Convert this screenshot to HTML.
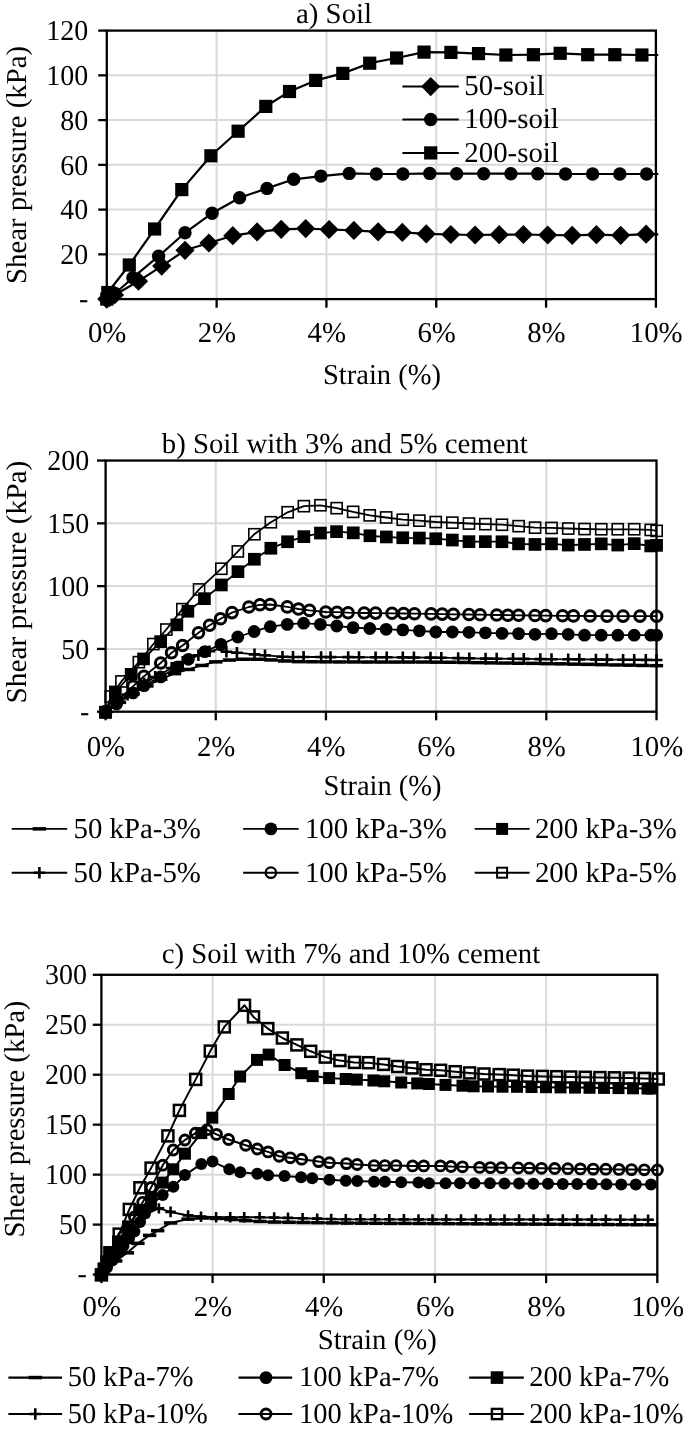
<!DOCTYPE html>
<html><head><meta charset="utf-8"><title>Shear pressure vs strain</title>
<style>html,body{margin:0;padding:0;background:#fff}svg{display:block}text{text-rendering:geometricPrecision;font-family:'Liberation Serif', 'Times New Roman', serif;fill:#000}</style>
</head><body>
<svg width="685" height="1431" viewBox="0 0 685 1431">
<rect width="685" height="1431" fill="#fff"/>
<g id="chart-a">
<line x1="106.8" x2="655.9" y1="254.35" y2="254.35" stroke="#d9d9d9" stroke-width="2"/>
<line x1="106.8" x2="655.9" y1="209.60" y2="209.60" stroke="#d9d9d9" stroke-width="2"/>
<line x1="106.8" x2="655.9" y1="164.85" y2="164.85" stroke="#d9d9d9" stroke-width="2"/>
<line x1="106.8" x2="655.9" y1="120.10" y2="120.10" stroke="#d9d9d9" stroke-width="2"/>
<line x1="106.8" x2="655.9" y1="75.35" y2="75.35" stroke="#d9d9d9" stroke-width="2"/>
<line x1="216.62" x2="216.62" y1="30.6" y2="299.1" stroke="#d9d9d9" stroke-width="2"/>
<line x1="326.44" x2="326.44" y1="30.6" y2="299.1" stroke="#d9d9d9" stroke-width="2"/>
<line x1="436.26" x2="436.26" y1="30.6" y2="299.1" stroke="#d9d9d9" stroke-width="2"/>
<line x1="546.08" x2="546.08" y1="30.6" y2="299.1" stroke="#d9d9d9" stroke-width="2"/>
<line x1="98.2" x2="106.8" y1="299.10" y2="299.10" stroke="#000" stroke-width="2.3"/>
<text transform="translate(88.2 307.9) scale(0.97 1)" text-anchor="end" font-size="28.85">-</text>
<line x1="98.2" x2="106.8" y1="254.35" y2="254.35" stroke="#000" stroke-width="2.3"/>
<text transform="translate(88.2 264.2) scale(0.97 1)" text-anchor="end" font-size="28.85">20</text>
<line x1="98.2" x2="106.8" y1="209.60" y2="209.60" stroke="#000" stroke-width="2.3"/>
<text transform="translate(88.2 219.4) scale(0.97 1)" text-anchor="end" font-size="28.85">40</text>
<line x1="98.2" x2="106.8" y1="164.85" y2="164.85" stroke="#000" stroke-width="2.3"/>
<text transform="translate(88.2 174.7) scale(0.97 1)" text-anchor="end" font-size="28.85">60</text>
<line x1="98.2" x2="106.8" y1="120.10" y2="120.10" stroke="#000" stroke-width="2.3"/>
<text transform="translate(88.2 129.9) scale(0.97 1)" text-anchor="end" font-size="28.85">80</text>
<line x1="98.2" x2="106.8" y1="75.35" y2="75.35" stroke="#000" stroke-width="2.3"/>
<text transform="translate(88.2 85.2) scale(0.97 1)" text-anchor="end" font-size="28.85">100</text>
<line x1="98.2" x2="106.8" y1="30.60" y2="30.60" stroke="#000" stroke-width="2.3"/>
<text transform="translate(88.2 40.4) scale(0.97 1)" text-anchor="end" font-size="28.85">120</text>
<line x1="106.80" x2="106.80" y1="299.1" y2="307.7" stroke="#000" stroke-width="2.3"/>
<text transform="translate(107.1 342.3)" text-anchor="middle" font-size="28.85">0%</text>
<line x1="216.62" x2="216.62" y1="299.1" y2="307.7" stroke="#000" stroke-width="2.3"/>
<text transform="translate(216.9 342.3)" text-anchor="middle" font-size="28.85">2%</text>
<line x1="326.44" x2="326.44" y1="299.1" y2="307.7" stroke="#000" stroke-width="2.3"/>
<text transform="translate(326.7 342.3)" text-anchor="middle" font-size="28.85">4%</text>
<line x1="436.26" x2="436.26" y1="299.1" y2="307.7" stroke="#000" stroke-width="2.3"/>
<text transform="translate(436.6 342.3)" text-anchor="middle" font-size="28.85">6%</text>
<line x1="546.08" x2="546.08" y1="299.1" y2="307.7" stroke="#000" stroke-width="2.3"/>
<text transform="translate(546.4 342.3)" text-anchor="middle" font-size="28.85">8%</text>
<line x1="655.90" x2="655.90" y1="299.1" y2="307.7" stroke="#000" stroke-width="2.3"/>
<text transform="translate(656.2 342.3)" text-anchor="middle" font-size="28.85">10%</text>
<rect x="106.8" y="30.6" width="549.10" height="268.50" fill="none" stroke="#000" stroke-width="2.3"/>
<text transform="translate(296.0 23.4)" font-size="28.85">a) Soil</text>
<text transform="translate(323.0 383.6)" textLength="118.0" lengthAdjust="spacingAndGlyphs" font-size="28.85">Strain (%)</text>
<text transform="translate(26.0 284.0) rotate(-90)" textLength="238.0" lengthAdjust="spacingAndGlyphs" font-size="28.85">Shear pressure (kPa)</text>
<polyline points="106.8,299.1 109.5,297.5 114.5,295.0 138.5,281.2 161.7,266.1 185.0,250.3 208.9,243.0 232.8,235.7 257.1,231.9 281.2,229.3 305.7,228.6 329.1,229.5 353.9,230.4 378.1,231.8 402.3,232.4 426.3,233.9 450.8,234.5 475.1,235.0 499.2,234.7 523.4,234.5 547.7,235.0 572.2,235.3 596.4,234.7 620.7,235.3 646.1,234.2 658.3,234.4" fill="none" stroke="#000" stroke-width="2.2" stroke-linejoin="round"/>
<path d="M97.2 299.1L106.8 289.5L116.4 299.1L106.8 308.7Z" fill="#000"/>
<path d="M99.9 297.5L109.5 287.9L119.1 297.5L109.5 307.1Z" fill="#000"/>
<path d="M104.9 295.0L114.5 285.4L124.1 295.0L114.5 304.6Z" fill="#000"/>
<path d="M128.9 281.2L138.5 271.6L148.1 281.2L138.5 290.8Z" fill="#000"/>
<path d="M152.1 266.1L161.7 256.5L171.3 266.1L161.7 275.7Z" fill="#000"/>
<path d="M175.4 250.3L185.0 240.7L194.6 250.3L185.0 259.9Z" fill="#000"/>
<path d="M199.3 243.0L208.9 233.4L218.5 243.0L208.9 252.6Z" fill="#000"/>
<path d="M223.2 235.7L232.8 226.1L242.4 235.7L232.8 245.3Z" fill="#000"/>
<path d="M247.5 231.9L257.1 222.3L266.7 231.9L257.1 241.5Z" fill="#000"/>
<path d="M271.6 229.3L281.2 219.7L290.8 229.3L281.2 238.9Z" fill="#000"/>
<path d="M296.1 228.6L305.7 219.0L315.3 228.6L305.7 238.2Z" fill="#000"/>
<path d="M319.5 229.5L329.1 219.9L338.7 229.5L329.1 239.1Z" fill="#000"/>
<path d="M344.3 230.4L353.9 220.8L363.5 230.4L353.9 240.0Z" fill="#000"/>
<path d="M368.5 231.8L378.1 222.2L387.7 231.8L378.1 241.4Z" fill="#000"/>
<path d="M392.7 232.4L402.3 222.8L411.9 232.4L402.3 242.0Z" fill="#000"/>
<path d="M416.7 233.9L426.3 224.3L435.9 233.9L426.3 243.5Z" fill="#000"/>
<path d="M441.2 234.5L450.8 224.9L460.4 234.5L450.8 244.1Z" fill="#000"/>
<path d="M465.5 235.0L475.1 225.4L484.7 235.0L475.1 244.6Z" fill="#000"/>
<path d="M489.6 234.7L499.2 225.1L508.8 234.7L499.2 244.3Z" fill="#000"/>
<path d="M513.8 234.5L523.4 224.9L533.0 234.5L523.4 244.1Z" fill="#000"/>
<path d="M538.1 235.0L547.7 225.4L557.3 235.0L547.7 244.6Z" fill="#000"/>
<path d="M562.6 235.3L572.2 225.7L581.8 235.3L572.2 244.9Z" fill="#000"/>
<path d="M586.8 234.7L596.4 225.1L606.0 234.7L596.4 244.3Z" fill="#000"/>
<path d="M611.1 235.3L620.7 225.7L630.3 235.3L620.7 244.9Z" fill="#000"/>
<path d="M636.5 234.2L646.1 224.6L655.7 234.2L646.1 243.8Z" fill="#000"/>
<polyline points="106.8,299.1 110.0,297.0 115.0,293.5 132.9,277.7 158.6,256.2 185.0,232.8 212.1,213.2 239.6,197.7 267.0,188.4 293.7,179.3 320.9,176.1 349.2,173.4 376.4,174.0 402.9,174.0 429.8,173.4 456.6,173.7 483.7,173.7 510.9,173.7 537.7,173.7 565.5,174.0 592.6,174.0 619.8,174.0 646.6,174.0 658.3,174.0" fill="none" stroke="#000" stroke-width="2.2" stroke-linejoin="round"/>
<circle cx="106.8" cy="299.1" r="6.70" fill="#000"/>
<circle cx="110.0" cy="297.0" r="6.70" fill="#000"/>
<circle cx="115.0" cy="293.5" r="6.70" fill="#000"/>
<circle cx="132.9" cy="277.7" r="6.70" fill="#000"/>
<circle cx="158.6" cy="256.2" r="6.70" fill="#000"/>
<circle cx="185.0" cy="232.8" r="6.70" fill="#000"/>
<circle cx="212.1" cy="213.2" r="6.70" fill="#000"/>
<circle cx="239.6" cy="197.7" r="6.70" fill="#000"/>
<circle cx="267.0" cy="188.4" r="6.70" fill="#000"/>
<circle cx="293.7" cy="179.3" r="6.70" fill="#000"/>
<circle cx="320.9" cy="176.1" r="6.70" fill="#000"/>
<circle cx="349.2" cy="173.4" r="6.70" fill="#000"/>
<circle cx="376.4" cy="174.0" r="6.70" fill="#000"/>
<circle cx="402.9" cy="174.0" r="6.70" fill="#000"/>
<circle cx="429.8" cy="173.4" r="6.70" fill="#000"/>
<circle cx="456.6" cy="173.7" r="6.70" fill="#000"/>
<circle cx="483.7" cy="173.7" r="6.70" fill="#000"/>
<circle cx="510.9" cy="173.7" r="6.70" fill="#000"/>
<circle cx="537.7" cy="173.7" r="6.70" fill="#000"/>
<circle cx="565.5" cy="174.0" r="6.70" fill="#000"/>
<circle cx="592.6" cy="174.0" r="6.70" fill="#000"/>
<circle cx="619.8" cy="174.0" r="6.70" fill="#000"/>
<circle cx="646.6" cy="174.0" r="6.70" fill="#000"/>
<polyline points="106.8,299.1 107.8,292.5 129.3,265.0 154.6,229.0 181.8,189.6 210.9,155.8 238.1,131.2 265.8,106.4 289.5,91.5 315.7,80.4 342.8,73.4 369.7,63.2 396.6,58.0 424.0,52.1 450.9,52.4 478.5,53.6 505.9,55.0 533.4,54.7 560.2,53.3 587.7,54.7 614.8,54.7 641.9,55.0 658.3,55.0" fill="none" stroke="#000" stroke-width="2.2" stroke-linejoin="round"/>
<rect x="100.2" y="292.5" width="13.2" height="13.2" fill="#000"/>
<rect x="101.2" y="285.9" width="13.2" height="13.2" fill="#000"/>
<rect x="122.7" y="258.4" width="13.2" height="13.2" fill="#000"/>
<rect x="148.0" y="222.4" width="13.2" height="13.2" fill="#000"/>
<rect x="175.2" y="183.0" width="13.2" height="13.2" fill="#000"/>
<rect x="204.3" y="149.2" width="13.2" height="13.2" fill="#000"/>
<rect x="231.5" y="124.6" width="13.2" height="13.2" fill="#000"/>
<rect x="259.2" y="99.8" width="13.2" height="13.2" fill="#000"/>
<rect x="282.9" y="84.9" width="13.2" height="13.2" fill="#000"/>
<rect x="309.1" y="73.8" width="13.2" height="13.2" fill="#000"/>
<rect x="336.2" y="66.8" width="13.2" height="13.2" fill="#000"/>
<rect x="363.1" y="56.6" width="13.2" height="13.2" fill="#000"/>
<rect x="390.0" y="51.4" width="13.2" height="13.2" fill="#000"/>
<rect x="417.4" y="45.5" width="13.2" height="13.2" fill="#000"/>
<rect x="444.3" y="45.8" width="13.2" height="13.2" fill="#000"/>
<rect x="471.9" y="47.0" width="13.2" height="13.2" fill="#000"/>
<rect x="499.3" y="48.4" width="13.2" height="13.2" fill="#000"/>
<rect x="526.8" y="48.1" width="13.2" height="13.2" fill="#000"/>
<rect x="553.6" y="46.7" width="13.2" height="13.2" fill="#000"/>
<rect x="581.1" y="48.1" width="13.2" height="13.2" fill="#000"/>
<rect x="608.2" y="48.1" width="13.2" height="13.2" fill="#000"/>
<rect x="635.3" y="48.4" width="13.2" height="13.2" fill="#000"/>
<line x1="402.4" x2="458.8" y1="86.6" y2="86.6" stroke="#000" stroke-width="2.0"/>
<path d="M421.1 86.6L430.7 77.0L440.3 86.6L430.7 96.2Z" fill="#000"/>
<text transform="translate(464.3 95.4)" font-size="28.85">50-soil</text>
<line x1="402.4" x2="458.8" y1="119.5" y2="119.5" stroke="#000" stroke-width="2.0"/>
<circle cx="430.7" cy="119.5" r="6.70" fill="#000"/>
<text transform="translate(464.3 128.3)" font-size="28.85">100-soil</text>
<line x1="402.4" x2="458.8" y1="152.9" y2="152.9" stroke="#000" stroke-width="2.0"/>
<rect x="424.1" y="146.3" width="13.2" height="13.2" fill="#000"/>
<text transform="translate(464.3 161.7)" font-size="28.85">200-soil</text>
</g>
<g id="chart-b">
<line x1="105.6" x2="656.5" y1="648.91" y2="648.91" stroke="#d9d9d9" stroke-width="2"/>
<line x1="105.6" x2="656.5" y1="586.12" y2="586.12" stroke="#d9d9d9" stroke-width="2"/>
<line x1="105.6" x2="656.5" y1="523.34" y2="523.34" stroke="#d9d9d9" stroke-width="2"/>
<line x1="215.78" x2="215.78" y1="460.55" y2="711.7" stroke="#d9d9d9" stroke-width="2"/>
<line x1="325.96" x2="325.96" y1="460.55" y2="711.7" stroke="#d9d9d9" stroke-width="2"/>
<line x1="436.14" x2="436.14" y1="460.55" y2="711.7" stroke="#d9d9d9" stroke-width="2"/>
<line x1="546.32" x2="546.32" y1="460.55" y2="711.7" stroke="#d9d9d9" stroke-width="2"/>
<line x1="97.0" x2="105.6" y1="711.70" y2="711.70" stroke="#000" stroke-width="2.3"/>
<text transform="translate(89.2 720.6) scale(0.97 1)" text-anchor="end" font-size="28.85">-</text>
<line x1="97.0" x2="105.6" y1="648.91" y2="648.91" stroke="#000" stroke-width="2.3"/>
<text transform="translate(89.2 658.8) scale(0.97 1)" text-anchor="end" font-size="28.85">50</text>
<line x1="97.0" x2="105.6" y1="586.12" y2="586.12" stroke="#000" stroke-width="2.3"/>
<text transform="translate(89.2 596.0) scale(0.97 1)" text-anchor="end" font-size="28.85">100</text>
<line x1="97.0" x2="105.6" y1="523.34" y2="523.34" stroke="#000" stroke-width="2.3"/>
<text transform="translate(89.2 533.2) scale(0.97 1)" text-anchor="end" font-size="28.85">150</text>
<line x1="97.0" x2="105.6" y1="460.55" y2="460.55" stroke="#000" stroke-width="2.3"/>
<text transform="translate(89.2 470.4) scale(0.97 1)" text-anchor="end" font-size="28.85">200</text>
<line x1="105.60" x2="105.60" y1="711.7" y2="720.3" stroke="#000" stroke-width="2.3"/>
<text transform="translate(105.9 755.6)" text-anchor="middle" font-size="28.85">0%</text>
<line x1="215.78" x2="215.78" y1="711.7" y2="720.3" stroke="#000" stroke-width="2.3"/>
<text transform="translate(216.1 755.6)" text-anchor="middle" font-size="28.85">2%</text>
<line x1="325.96" x2="325.96" y1="711.7" y2="720.3" stroke="#000" stroke-width="2.3"/>
<text transform="translate(326.3 755.6)" text-anchor="middle" font-size="28.85">4%</text>
<line x1="436.14" x2="436.14" y1="711.7" y2="720.3" stroke="#000" stroke-width="2.3"/>
<text transform="translate(436.4 755.6)" text-anchor="middle" font-size="28.85">6%</text>
<line x1="546.32" x2="546.32" y1="711.7" y2="720.3" stroke="#000" stroke-width="2.3"/>
<text transform="translate(546.6 755.6)" text-anchor="middle" font-size="28.85">8%</text>
<line x1="656.50" x2="656.50" y1="711.7" y2="720.3" stroke="#000" stroke-width="2.3"/>
<text transform="translate(656.8 755.6)" text-anchor="middle" font-size="28.85">10%</text>
<rect x="105.6" y="460.55" width="550.90" height="251.15" fill="none" stroke="#000" stroke-width="2.3"/>
<text transform="translate(161.8 453.4)" textLength="366.0" lengthAdjust="spacingAndGlyphs" font-size="28.85">b) Soil with 3% and 5% cement</text>
<text transform="translate(323.6 795.3)" textLength="118.0" lengthAdjust="spacingAndGlyphs" font-size="28.85">Strain (%)</text>
<text transform="translate(25.5 703.6) rotate(-90)" textLength="243.0" lengthAdjust="spacingAndGlyphs" font-size="28.85">Shear pressure (kPa)</text>
<g transform="translate(0 0.5)">
<polyline points="105.6,711.7 122.0,700.0 144.6,686.6 160.0,679.0 173.8,673.4 180.0,671.4 197.5,666.2 215.0,661.4 232.6,659.2 250.0,658.5 267.6,659.2 285.1,660.5 300.0,661.2 355.0,661.5 435.0,661.6 540.0,663.0 662.0,665.3" fill="none" stroke="#000" stroke-width="1.8" stroke-linejoin="round"/>
<rect x="98.9" y="710.0" width="13.4" height="3.5" fill="#000"/>
<rect x="112.7" y="700.1" width="13.4" height="3.5" fill="#000"/>
<rect x="126.4" y="691.6" width="13.4" height="3.5" fill="#000"/>
<rect x="140.2" y="683.7" width="13.4" height="3.5" fill="#000"/>
<rect x="154.0" y="677.0" width="13.4" height="3.5" fill="#000"/>
<rect x="167.8" y="671.4" width="13.4" height="3.5" fill="#000"/>
<rect x="181.5" y="667.2" width="13.4" height="3.5" fill="#000"/>
<rect x="195.3" y="663.2" width="13.4" height="3.5" fill="#000"/>
<rect x="209.1" y="659.6" width="13.4" height="3.5" fill="#000"/>
<rect x="222.8" y="657.8" width="13.4" height="3.5" fill="#000"/>
<rect x="236.6" y="657.0" width="13.4" height="3.5" fill="#000"/>
<rect x="250.4" y="657.0" width="13.4" height="3.5" fill="#000"/>
<rect x="264.1" y="657.7" width="13.4" height="3.5" fill="#000"/>
<rect x="277.9" y="658.7" width="13.4" height="3.5" fill="#000"/>
<rect x="291.7" y="659.4" width="13.4" height="3.5" fill="#000"/>
<rect x="305.4" y="659.5" width="13.4" height="3.5" fill="#000"/>
<rect x="319.2" y="659.6" width="13.4" height="3.5" fill="#000"/>
<rect x="333.0" y="659.7" width="13.4" height="3.5" fill="#000"/>
<rect x="346.8" y="659.7" width="13.4" height="3.5" fill="#000"/>
<rect x="360.5" y="659.8" width="13.4" height="3.5" fill="#000"/>
<rect x="374.3" y="659.8" width="13.4" height="3.5" fill="#000"/>
<rect x="388.1" y="659.8" width="13.4" height="3.5" fill="#000"/>
<rect x="401.8" y="659.8" width="13.4" height="3.5" fill="#000"/>
<rect x="415.6" y="659.8" width="13.4" height="3.5" fill="#000"/>
<rect x="429.4" y="659.9" width="13.4" height="3.5" fill="#000"/>
<rect x="443.1" y="660.0" width="13.4" height="3.5" fill="#000"/>
<rect x="456.9" y="660.2" width="13.4" height="3.5" fill="#000"/>
<rect x="470.7" y="660.4" width="13.4" height="3.5" fill="#000"/>
<rect x="484.5" y="660.6" width="13.4" height="3.5" fill="#000"/>
<rect x="498.2" y="660.8" width="13.4" height="3.5" fill="#000"/>
<rect x="512.0" y="661.0" width="13.4" height="3.5" fill="#000"/>
<rect x="525.8" y="661.1" width="13.4" height="3.5" fill="#000"/>
<rect x="539.5" y="661.4" width="13.4" height="3.5" fill="#000"/>
<rect x="553.3" y="661.6" width="13.4" height="3.5" fill="#000"/>
<rect x="567.1" y="661.9" width="13.4" height="3.5" fill="#000"/>
<rect x="580.8" y="662.1" width="13.4" height="3.5" fill="#000"/>
<rect x="594.6" y="662.4" width="13.4" height="3.5" fill="#000"/>
<rect x="608.4" y="662.7" width="13.4" height="3.5" fill="#000"/>
<rect x="622.2" y="662.9" width="13.4" height="3.5" fill="#000"/>
<rect x="635.9" y="663.2" width="13.4" height="3.5" fill="#000"/>
<rect x="649.7" y="663.4" width="13.4" height="3.5" fill="#000"/>
<polyline points="105.6,711.7 116.6,702.0 127.6,694.0 144.2,683.0 155.2,676.5 171.7,667.5 182.7,661.5 198.4,654.8 209.5,650.8 217.0,648.8 226.4,651.3 236.9,652.2 254.5,653.9 265.0,654.8 282.5,656.2 293.0,656.5 303.6,656.5 321.1,656.5 330.5,656.6 348.2,656.6 359.0,656.7 375.6,656.8 386.7,656.8 402.8,656.9 413.9,657.0 430.5,657.1 441.3,657.2 458.2,657.6 469.3,657.8 485.6,658.1 496.7,658.2 513.0,658.3 523.8,658.4 540.3,658.6 551.5,658.7 568.2,658.8 579.3,658.9 595.9,659.0 607.0,659.1 623.1,659.2 634.2,659.3 645.8,659.4 656.6,659.5 662.0,659.5" fill="none" stroke="#000" stroke-width="1.8" stroke-linejoin="round"/>
<path d="M105.6 705.9V717.6M99.8 711.7H111.4" stroke="#000" stroke-width="2.6" fill="none"/>
<path d="M116.6 696.1V707.9M110.8 702.0H122.4" stroke="#000" stroke-width="2.6" fill="none"/>
<path d="M127.6 688.1V699.9M121.8 694.0H133.4" stroke="#000" stroke-width="2.6" fill="none"/>
<path d="M144.2 677.1V688.9M138.3 683.0H150.0" stroke="#000" stroke-width="2.6" fill="none"/>
<path d="M155.2 670.6V682.4M149.3 676.5H161.0" stroke="#000" stroke-width="2.6" fill="none"/>
<path d="M171.7 661.6V673.4M165.8 667.5H177.5" stroke="#000" stroke-width="2.6" fill="none"/>
<path d="M182.7 655.6V667.4M176.8 661.5H188.5" stroke="#000" stroke-width="2.6" fill="none"/>
<path d="M198.4 648.9V660.6M192.6 654.8H204.2" stroke="#000" stroke-width="2.6" fill="none"/>
<path d="M209.5 644.9V656.6M203.7 650.8H215.3" stroke="#000" stroke-width="2.6" fill="none"/>
<path d="M226.4 645.4V657.1M220.6 651.3H232.2" stroke="#000" stroke-width="2.6" fill="none"/>
<path d="M236.9 646.4V658.1M231.1 652.2H242.8" stroke="#000" stroke-width="2.6" fill="none"/>
<path d="M254.5 648.0V659.8M248.7 653.9H260.4" stroke="#000" stroke-width="2.6" fill="none"/>
<path d="M265.0 648.9V660.6M259.1 654.8H270.9" stroke="#000" stroke-width="2.6" fill="none"/>
<path d="M282.5 650.4V662.1M276.6 656.2H288.4" stroke="#000" stroke-width="2.6" fill="none"/>
<path d="M293.0 650.6V662.4M287.1 656.5H298.9" stroke="#000" stroke-width="2.6" fill="none"/>
<path d="M303.6 650.6V662.4M297.8 656.5H309.5" stroke="#000" stroke-width="2.6" fill="none"/>
<path d="M321.1 650.7V662.4M315.2 656.5H327.0" stroke="#000" stroke-width="2.6" fill="none"/>
<path d="M330.5 650.7V662.4M324.6 656.6H336.4" stroke="#000" stroke-width="2.6" fill="none"/>
<path d="M348.2 650.8V662.5M342.3 656.6H354.1" stroke="#000" stroke-width="2.6" fill="none"/>
<path d="M359.0 650.8V662.5M353.1 656.7H364.9" stroke="#000" stroke-width="2.6" fill="none"/>
<path d="M375.6 650.9V662.6M369.8 656.8H381.5" stroke="#000" stroke-width="2.6" fill="none"/>
<path d="M386.7 651.0V662.7M380.8 656.8H392.6" stroke="#000" stroke-width="2.6" fill="none"/>
<path d="M402.8 651.1V662.8M396.9 656.9H408.7" stroke="#000" stroke-width="2.6" fill="none"/>
<path d="M413.9 651.1V662.8M408.0 657.0H419.8" stroke="#000" stroke-width="2.6" fill="none"/>
<path d="M430.5 651.2V662.9M424.6 657.1H436.4" stroke="#000" stroke-width="2.6" fill="none"/>
<path d="M441.3 651.4V663.1M435.4 657.2H447.2" stroke="#000" stroke-width="2.6" fill="none"/>
<path d="M458.2 651.7V663.4M452.3 657.6H464.1" stroke="#000" stroke-width="2.6" fill="none"/>
<path d="M469.3 651.9V663.6M463.4 657.8H475.2" stroke="#000" stroke-width="2.6" fill="none"/>
<path d="M485.6 652.2V663.9M479.8 658.1H491.5" stroke="#000" stroke-width="2.6" fill="none"/>
<path d="M496.7 652.3V664.0M490.8 658.2H502.6" stroke="#000" stroke-width="2.6" fill="none"/>
<path d="M513.0 652.5V664.2M507.1 658.3H518.9" stroke="#000" stroke-width="2.6" fill="none"/>
<path d="M523.8 652.6V664.3M517.9 658.4H529.6" stroke="#000" stroke-width="2.6" fill="none"/>
<path d="M540.3 652.8V664.5M534.4 658.6H546.1" stroke="#000" stroke-width="2.6" fill="none"/>
<path d="M551.5 652.8V664.5M545.6 658.7H557.4" stroke="#000" stroke-width="2.6" fill="none"/>
<path d="M568.2 653.0V664.7M562.4 658.8H574.1" stroke="#000" stroke-width="2.6" fill="none"/>
<path d="M579.3 653.1V664.8M573.4 658.9H585.1" stroke="#000" stroke-width="2.6" fill="none"/>
<path d="M595.9 653.2V664.9M590.0 659.0H601.8" stroke="#000" stroke-width="2.6" fill="none"/>
<path d="M607.0 653.3V665.0M601.1 659.1H612.9" stroke="#000" stroke-width="2.6" fill="none"/>
<path d="M623.1 653.4V665.1M617.2 659.2H629.0" stroke="#000" stroke-width="2.6" fill="none"/>
<path d="M634.2 653.5V665.2M628.4 659.3H640.1" stroke="#000" stroke-width="2.6" fill="none"/>
<path d="M645.8 653.6V665.3M639.9 659.4H651.6" stroke="#000" stroke-width="2.6" fill="none"/>
<path d="M656.6 653.6V665.4M650.8 659.5H662.5" stroke="#000" stroke-width="2.6" fill="none"/>
<polyline points="105.6,711.7 116.6,703.5 133.0,692.4 144.0,685.1 160.7,676.4 176.8,666.7 188.4,658.8 204.8,651.1 220.9,643.9 237.8,636.5 254.1,631.0 270.3,626.2 287.3,623.9 303.6,622.7 320.4,623.9 336.8,625.5 353.1,627.1 369.8,628.0 386.1,628.8 402.8,629.4 419.4,630.3 435.8,631.5 452.4,631.5 469.0,631.8 485.4,632.3 502.0,632.9 518.6,633.1 535.0,633.8 551.5,633.2 568.2,633.8 584.5,634.7 601.2,634.7 617.8,634.7 634.2,634.7 650.8,634.7 656.6,634.7" fill="none" stroke="#000" stroke-width="1.8" stroke-linejoin="round"/>
<circle cx="105.6" cy="711.7" r="6.40" fill="#000"/>
<circle cx="116.6" cy="703.5" r="6.40" fill="#000"/>
<circle cx="133.0" cy="692.4" r="6.40" fill="#000"/>
<circle cx="144.0" cy="685.1" r="6.40" fill="#000"/>
<circle cx="160.7" cy="676.4" r="6.40" fill="#000"/>
<circle cx="176.8" cy="666.7" r="6.40" fill="#000"/>
<circle cx="188.4" cy="658.8" r="6.40" fill="#000"/>
<circle cx="204.8" cy="651.1" r="6.40" fill="#000"/>
<circle cx="220.9" cy="643.9" r="6.40" fill="#000"/>
<circle cx="237.8" cy="636.5" r="6.40" fill="#000"/>
<circle cx="254.1" cy="631.0" r="6.40" fill="#000"/>
<circle cx="270.3" cy="626.2" r="6.40" fill="#000"/>
<circle cx="287.3" cy="623.9" r="6.40" fill="#000"/>
<circle cx="303.6" cy="622.7" r="6.40" fill="#000"/>
<circle cx="320.4" cy="623.9" r="6.40" fill="#000"/>
<circle cx="336.8" cy="625.5" r="6.40" fill="#000"/>
<circle cx="353.1" cy="627.1" r="6.40" fill="#000"/>
<circle cx="369.8" cy="628.0" r="6.40" fill="#000"/>
<circle cx="386.1" cy="628.8" r="6.40" fill="#000"/>
<circle cx="402.8" cy="629.4" r="6.40" fill="#000"/>
<circle cx="419.4" cy="630.3" r="6.40" fill="#000"/>
<circle cx="435.8" cy="631.5" r="6.40" fill="#000"/>
<circle cx="452.4" cy="631.5" r="6.40" fill="#000"/>
<circle cx="469.0" cy="631.8" r="6.40" fill="#000"/>
<circle cx="485.4" cy="632.3" r="6.40" fill="#000"/>
<circle cx="502.0" cy="632.9" r="6.40" fill="#000"/>
<circle cx="518.6" cy="633.1" r="6.40" fill="#000"/>
<circle cx="535.0" cy="633.8" r="6.40" fill="#000"/>
<circle cx="551.5" cy="633.2" r="6.40" fill="#000"/>
<circle cx="568.2" cy="633.8" r="6.40" fill="#000"/>
<circle cx="584.5" cy="634.7" r="6.40" fill="#000"/>
<circle cx="601.2" cy="634.7" r="6.40" fill="#000"/>
<circle cx="617.8" cy="634.7" r="6.40" fill="#000"/>
<circle cx="634.2" cy="634.7" r="6.40" fill="#000"/>
<circle cx="650.8" cy="634.7" r="6.40" fill="#000"/>
<circle cx="656.6" cy="634.7" r="6.40" fill="#000"/>
<polyline points="105.6,711.0 116.6,700.9 133.0,685.9 144.0,675.7 160.7,662.5 171.5,652.3 182.6,645.0 198.5,632.3 209.6,624.8 220.6,618.3 232.0,612.1 248.8,606.5 259.9,604.3 270.3,604.0 287.3,606.4 298.5,608.5 309.5,609.9 325.8,611.5 337.0,611.7 348.1,612.2 364.2,612.5 375.6,612.6 392.0,612.8 403.6,613.0 414.5,613.2 431.1,613.4 442.2,613.6 453.3,613.8 469.0,614.0 480.1,614.2 496.7,614.5 507.8,614.7 518.6,614.8 535.0,615.0 545.7,615.1 562.6,615.3 573.4,615.4 590.1,615.5 607.0,615.6 623.1,615.6 640.0,615.6 656.6,615.7" fill="none" stroke="#000" stroke-width="1.8" stroke-linejoin="round"/>
<circle cx="105.6" cy="711.0" r="5.30" fill="none" stroke="#000" stroke-width="3.0"/>
<circle cx="116.6" cy="700.9" r="5.30" fill="none" stroke="#000" stroke-width="3.0"/>
<circle cx="133.0" cy="685.9" r="5.30" fill="none" stroke="#000" stroke-width="3.0"/>
<circle cx="144.0" cy="675.7" r="5.30" fill="none" stroke="#000" stroke-width="3.0"/>
<circle cx="160.7" cy="662.5" r="5.30" fill="none" stroke="#000" stroke-width="3.0"/>
<circle cx="171.5" cy="652.3" r="5.30" fill="none" stroke="#000" stroke-width="3.0"/>
<circle cx="182.6" cy="645.0" r="5.30" fill="none" stroke="#000" stroke-width="3.0"/>
<circle cx="198.5" cy="632.3" r="5.30" fill="none" stroke="#000" stroke-width="3.0"/>
<circle cx="209.6" cy="624.8" r="5.30" fill="none" stroke="#000" stroke-width="3.0"/>
<circle cx="220.6" cy="618.3" r="5.30" fill="none" stroke="#000" stroke-width="3.0"/>
<circle cx="232.0" cy="612.1" r="5.30" fill="none" stroke="#000" stroke-width="3.0"/>
<circle cx="248.8" cy="606.5" r="5.30" fill="none" stroke="#000" stroke-width="3.0"/>
<circle cx="259.9" cy="604.3" r="5.30" fill="none" stroke="#000" stroke-width="3.0"/>
<circle cx="270.3" cy="604.0" r="5.30" fill="none" stroke="#000" stroke-width="3.0"/>
<circle cx="287.3" cy="606.4" r="5.30" fill="none" stroke="#000" stroke-width="3.0"/>
<circle cx="298.5" cy="608.5" r="5.30" fill="none" stroke="#000" stroke-width="3.0"/>
<circle cx="309.5" cy="609.9" r="5.30" fill="none" stroke="#000" stroke-width="3.0"/>
<circle cx="325.8" cy="611.5" r="5.30" fill="none" stroke="#000" stroke-width="3.0"/>
<circle cx="337.0" cy="611.7" r="5.30" fill="none" stroke="#000" stroke-width="3.0"/>
<circle cx="348.1" cy="612.2" r="5.30" fill="none" stroke="#000" stroke-width="3.0"/>
<circle cx="364.2" cy="612.5" r="5.30" fill="none" stroke="#000" stroke-width="3.0"/>
<circle cx="375.6" cy="612.6" r="5.30" fill="none" stroke="#000" stroke-width="3.0"/>
<circle cx="392.0" cy="612.8" r="5.30" fill="none" stroke="#000" stroke-width="3.0"/>
<circle cx="403.6" cy="613.0" r="5.30" fill="none" stroke="#000" stroke-width="3.0"/>
<circle cx="414.5" cy="613.2" r="5.30" fill="none" stroke="#000" stroke-width="3.0"/>
<circle cx="431.1" cy="613.4" r="5.30" fill="none" stroke="#000" stroke-width="3.0"/>
<circle cx="442.2" cy="613.6" r="5.30" fill="none" stroke="#000" stroke-width="3.0"/>
<circle cx="453.3" cy="613.8" r="5.30" fill="none" stroke="#000" stroke-width="3.0"/>
<circle cx="469.0" cy="614.0" r="5.30" fill="none" stroke="#000" stroke-width="3.0"/>
<circle cx="480.1" cy="614.2" r="5.30" fill="none" stroke="#000" stroke-width="3.0"/>
<circle cx="496.7" cy="614.5" r="5.30" fill="none" stroke="#000" stroke-width="3.0"/>
<circle cx="507.8" cy="614.7" r="5.30" fill="none" stroke="#000" stroke-width="3.0"/>
<circle cx="518.6" cy="614.8" r="5.30" fill="none" stroke="#000" stroke-width="3.0"/>
<circle cx="535.0" cy="615.0" r="5.30" fill="none" stroke="#000" stroke-width="3.0"/>
<circle cx="545.7" cy="615.1" r="5.30" fill="none" stroke="#000" stroke-width="3.0"/>
<circle cx="562.6" cy="615.3" r="5.30" fill="none" stroke="#000" stroke-width="3.0"/>
<circle cx="573.4" cy="615.4" r="5.30" fill="none" stroke="#000" stroke-width="3.0"/>
<circle cx="590.1" cy="615.5" r="5.30" fill="none" stroke="#000" stroke-width="3.0"/>
<circle cx="607.0" cy="615.6" r="5.30" fill="none" stroke="#000" stroke-width="3.0"/>
<circle cx="623.1" cy="615.6" r="5.30" fill="none" stroke="#000" stroke-width="3.0"/>
<circle cx="640.0" cy="615.6" r="5.30" fill="none" stroke="#000" stroke-width="3.0"/>
<circle cx="656.6" cy="615.7" r="5.30" fill="none" stroke="#000" stroke-width="3.0"/>
<polyline points="105.6,711.7 115.3,691.5 131.2,673.9 143.5,658.5 160.7,641.1 176.8,624.4 187.8,610.7 204.4,598.1 221.3,584.5 237.9,571.1 254.3,558.8 270.9,547.7 287.6,541.3 303.9,536.1 320.5,532.6 336.6,531.1 353.3,532.4 370.0,535.3 386.4,536.5 402.8,537.3 419.4,537.6 435.8,538.2 452.4,539.6 469.0,541.1 485.4,541.1 502.0,541.2 518.6,543.4 535.0,544.0 551.5,543.4 568.2,544.6 584.5,544.0 601.2,543.4 617.8,544.6 634.2,543.1 650.8,545.5 656.6,544.9" fill="none" stroke="#000" stroke-width="1.8" stroke-linejoin="round"/>
<rect x="99.2" y="705.4" width="12.7" height="12.7" fill="#000"/>
<rect x="109.0" y="685.1" width="12.7" height="12.7" fill="#000"/>
<rect x="124.8" y="667.5" width="12.7" height="12.7" fill="#000"/>
<rect x="137.2" y="652.1" width="12.7" height="12.7" fill="#000"/>
<rect x="154.3" y="634.8" width="12.7" height="12.7" fill="#000"/>
<rect x="170.5" y="618.0" width="12.7" height="12.7" fill="#000"/>
<rect x="181.5" y="604.4" width="12.7" height="12.7" fill="#000"/>
<rect x="198.1" y="591.8" width="12.7" height="12.7" fill="#000"/>
<rect x="215.0" y="578.1" width="12.7" height="12.7" fill="#000"/>
<rect x="231.6" y="564.8" width="12.7" height="12.7" fill="#000"/>
<rect x="248.0" y="552.4" width="12.7" height="12.7" fill="#000"/>
<rect x="264.5" y="541.4" width="12.7" height="12.7" fill="#000"/>
<rect x="281.2" y="534.9" width="12.7" height="12.7" fill="#000"/>
<rect x="297.5" y="529.8" width="12.7" height="12.7" fill="#000"/>
<rect x="314.1" y="526.2" width="12.7" height="12.7" fill="#000"/>
<rect x="330.2" y="524.8" width="12.7" height="12.7" fill="#000"/>
<rect x="346.9" y="526.0" width="12.7" height="12.7" fill="#000"/>
<rect x="363.6" y="528.9" width="12.7" height="12.7" fill="#000"/>
<rect x="380.0" y="530.1" width="12.7" height="12.7" fill="#000"/>
<rect x="396.4" y="530.9" width="12.7" height="12.7" fill="#000"/>
<rect x="413.0" y="531.2" width="12.7" height="12.7" fill="#000"/>
<rect x="429.4" y="531.9" width="12.7" height="12.7" fill="#000"/>
<rect x="446.0" y="533.2" width="12.7" height="12.7" fill="#000"/>
<rect x="462.6" y="534.8" width="12.7" height="12.7" fill="#000"/>
<rect x="479.0" y="534.8" width="12.7" height="12.7" fill="#000"/>
<rect x="495.6" y="534.9" width="12.7" height="12.7" fill="#000"/>
<rect x="512.2" y="537.0" width="12.7" height="12.7" fill="#000"/>
<rect x="528.6" y="537.6" width="12.7" height="12.7" fill="#000"/>
<rect x="545.1" y="537.0" width="12.7" height="12.7" fill="#000"/>
<rect x="561.9" y="538.2" width="12.7" height="12.7" fill="#000"/>
<rect x="578.1" y="537.6" width="12.7" height="12.7" fill="#000"/>
<rect x="594.9" y="537.0" width="12.7" height="12.7" fill="#000"/>
<rect x="611.4" y="538.2" width="12.7" height="12.7" fill="#000"/>
<rect x="627.9" y="536.8" width="12.7" height="12.7" fill="#000"/>
<rect x="644.4" y="539.1" width="12.7" height="12.7" fill="#000"/>
<rect x="650.2" y="538.5" width="12.7" height="12.7" fill="#000"/>
<polyline points="105.6,711.7 110.8,696.0 121.4,680.9 138.9,661.6 153.4,643.5 166.3,629.0 182.3,608.6 199.1,588.9 221.3,568.2 237.9,550.9 254.3,533.7 270.9,521.8 287.6,511.8 303.9,505.7 320.5,504.8 336.6,507.7 353.1,511.4 369.8,514.9 386.1,517.0 402.8,519.2 419.4,520.1 435.8,521.5 452.4,522.1 469.0,523.0 485.4,523.6 502.0,524.2 518.6,525.6 535.0,527.1 551.5,527.4 568.2,528.0 584.5,528.5 601.2,528.8 617.8,528.8 634.2,528.8 650.8,529.4 656.6,530.3" fill="none" stroke="#000" stroke-width="1.8" stroke-linejoin="round"/>
<rect x="100.0" y="706.2" width="11.1" height="11.1" fill="none" stroke="#000" stroke-width="1.6"/>
<rect x="105.2" y="690.5" width="11.1" height="11.1" fill="none" stroke="#000" stroke-width="1.6"/>
<rect x="115.9" y="675.4" width="11.1" height="11.1" fill="none" stroke="#000" stroke-width="1.6"/>
<rect x="133.3" y="656.1" width="11.1" height="11.1" fill="none" stroke="#000" stroke-width="1.6"/>
<rect x="147.8" y="638.0" width="11.1" height="11.1" fill="none" stroke="#000" stroke-width="1.6"/>
<rect x="160.8" y="623.5" width="11.1" height="11.1" fill="none" stroke="#000" stroke-width="1.6"/>
<rect x="176.8" y="603.1" width="11.1" height="11.1" fill="none" stroke="#000" stroke-width="1.6"/>
<rect x="193.5" y="583.4" width="11.1" height="11.1" fill="none" stroke="#000" stroke-width="1.6"/>
<rect x="215.8" y="562.7" width="11.1" height="11.1" fill="none" stroke="#000" stroke-width="1.6"/>
<rect x="232.3" y="545.4" width="11.1" height="11.1" fill="none" stroke="#000" stroke-width="1.6"/>
<rect x="248.8" y="528.2" width="11.1" height="11.1" fill="none" stroke="#000" stroke-width="1.6"/>
<rect x="265.3" y="516.2" width="11.1" height="11.1" fill="none" stroke="#000" stroke-width="1.6"/>
<rect x="282.1" y="506.2" width="11.1" height="11.1" fill="none" stroke="#000" stroke-width="1.6"/>
<rect x="298.3" y="500.1" width="11.1" height="11.1" fill="none" stroke="#000" stroke-width="1.6"/>
<rect x="314.9" y="499.2" width="11.1" height="11.1" fill="none" stroke="#000" stroke-width="1.6"/>
<rect x="331.1" y="502.1" width="11.1" height="11.1" fill="none" stroke="#000" stroke-width="1.6"/>
<rect x="347.6" y="505.8" width="11.1" height="11.1" fill="none" stroke="#000" stroke-width="1.6"/>
<rect x="364.2" y="509.3" width="11.1" height="11.1" fill="none" stroke="#000" stroke-width="1.6"/>
<rect x="380.6" y="511.4" width="11.1" height="11.1" fill="none" stroke="#000" stroke-width="1.6"/>
<rect x="397.2" y="513.7" width="11.1" height="11.1" fill="none" stroke="#000" stroke-width="1.6"/>
<rect x="413.8" y="514.6" width="11.1" height="11.1" fill="none" stroke="#000" stroke-width="1.6"/>
<rect x="430.2" y="516.0" width="11.1" height="11.1" fill="none" stroke="#000" stroke-width="1.6"/>
<rect x="446.8" y="516.6" width="11.1" height="11.1" fill="none" stroke="#000" stroke-width="1.6"/>
<rect x="463.4" y="517.5" width="11.1" height="11.1" fill="none" stroke="#000" stroke-width="1.6"/>
<rect x="479.8" y="518.1" width="11.1" height="11.1" fill="none" stroke="#000" stroke-width="1.6"/>
<rect x="496.4" y="518.7" width="11.1" height="11.1" fill="none" stroke="#000" stroke-width="1.6"/>
<rect x="513.1" y="520.1" width="11.1" height="11.1" fill="none" stroke="#000" stroke-width="1.6"/>
<rect x="529.5" y="521.6" width="11.1" height="11.1" fill="none" stroke="#000" stroke-width="1.6"/>
<rect x="546.0" y="521.9" width="11.1" height="11.1" fill="none" stroke="#000" stroke-width="1.6"/>
<rect x="562.7" y="522.5" width="11.1" height="11.1" fill="none" stroke="#000" stroke-width="1.6"/>
<rect x="579.0" y="523.0" width="11.1" height="11.1" fill="none" stroke="#000" stroke-width="1.6"/>
<rect x="595.7" y="523.2" width="11.1" height="11.1" fill="none" stroke="#000" stroke-width="1.6"/>
<rect x="612.2" y="523.2" width="11.1" height="11.1" fill="none" stroke="#000" stroke-width="1.6"/>
<rect x="628.7" y="523.2" width="11.1" height="11.1" fill="none" stroke="#000" stroke-width="1.6"/>
<rect x="645.2" y="523.9" width="11.1" height="11.1" fill="none" stroke="#000" stroke-width="1.6"/>
<rect x="651.1" y="524.8" width="11.1" height="11.1" fill="none" stroke="#000" stroke-width="1.6"/>
</g>
<line x1="11.7" x2="67.2" y1="828.9" y2="828.9" stroke="#000" stroke-width="1.9"/>
<rect x="32.7" y="827.1" width="13.4" height="3.5" fill="#000"/>
<text transform="translate(73.5 837.7)" font-size="28.85">50 kPa-3%</text>
<line x1="11.7" x2="67.2" y1="872.7" y2="872.7" stroke="#000" stroke-width="1.9"/>
<path d="M39.4 866.9V878.6M33.5 872.7H45.2" stroke="#000" stroke-width="2.6" fill="none"/>
<text transform="translate(73.5 881.5)" font-size="28.85">50 kPa-5%</text>
<line x1="243.1" x2="298.6" y1="828.9" y2="828.9" stroke="#000" stroke-width="1.9"/>
<circle cx="270.9" cy="828.9" r="6.40" fill="#000"/>
<text transform="translate(304.9 837.7)" font-size="28.85">100 kPa-3%</text>
<line x1="243.1" x2="298.6" y1="872.7" y2="872.7" stroke="#000" stroke-width="1.9"/>
<circle cx="270.9" cy="872.7" r="5.25" fill="none" stroke="#000" stroke-width="2.3"/>
<text transform="translate(304.9 881.5)" font-size="28.85">100 kPa-5%</text>
<line x1="474.7" x2="529.6" y1="828.9" y2="828.9" stroke="#000" stroke-width="1.9"/>
<rect x="496.1" y="822.9" width="12" height="12" fill="#000"/>
<text transform="translate(534.9 837.7)" font-size="28.85">200 kPa-3%</text>
<line x1="474.7" x2="529.6" y1="872.7" y2="872.7" stroke="#000" stroke-width="1.9"/>
<rect x="497.1" y="867.7" width="10.0" height="10.0" fill="none" stroke="#000" stroke-width="2.0"/>
<text transform="translate(534.9 881.5)" font-size="28.85">200 kPa-5%</text>
</g>
<g id="chart-c">
<line x1="101.4" x2="657.3" y1="1224.59" y2="1224.59" stroke="#d9d9d9" stroke-width="2"/>
<line x1="101.4" x2="657.3" y1="1174.63" y2="1174.63" stroke="#d9d9d9" stroke-width="2"/>
<line x1="101.4" x2="657.3" y1="1124.67" y2="1124.67" stroke="#d9d9d9" stroke-width="2"/>
<line x1="101.4" x2="657.3" y1="1074.72" y2="1074.72" stroke="#d9d9d9" stroke-width="2"/>
<line x1="101.4" x2="657.3" y1="1024.76" y2="1024.76" stroke="#d9d9d9" stroke-width="2"/>
<line x1="212.58" x2="212.58" y1="974.8" y2="1274.55" stroke="#d9d9d9" stroke-width="2"/>
<line x1="323.76" x2="323.76" y1="974.8" y2="1274.55" stroke="#d9d9d9" stroke-width="2"/>
<line x1="434.94" x2="434.94" y1="974.8" y2="1274.55" stroke="#d9d9d9" stroke-width="2"/>
<line x1="546.12" x2="546.12" y1="974.8" y2="1274.55" stroke="#d9d9d9" stroke-width="2"/>
<line x1="92.8" x2="101.4" y1="1274.55" y2="1274.55" stroke="#000" stroke-width="2.3"/>
<text transform="translate(86.9 1283.0) scale(0.97 1)" text-anchor="end" font-size="28.85">-</text>
<line x1="92.8" x2="101.4" y1="1224.59" y2="1224.59" stroke="#000" stroke-width="2.3"/>
<text transform="translate(86.9 1234.1) scale(0.97 1)" text-anchor="end" font-size="28.85">50</text>
<line x1="92.8" x2="101.4" y1="1174.63" y2="1174.63" stroke="#000" stroke-width="2.3"/>
<text transform="translate(86.9 1184.1) scale(0.97 1)" text-anchor="end" font-size="28.85">100</text>
<line x1="92.8" x2="101.4" y1="1124.67" y2="1124.67" stroke="#000" stroke-width="2.3"/>
<text transform="translate(86.9 1134.2) scale(0.97 1)" text-anchor="end" font-size="28.85">150</text>
<line x1="92.8" x2="101.4" y1="1074.72" y2="1074.72" stroke="#000" stroke-width="2.3"/>
<text transform="translate(86.9 1084.2) scale(0.97 1)" text-anchor="end" font-size="28.85">200</text>
<line x1="92.8" x2="101.4" y1="1024.76" y2="1024.76" stroke="#000" stroke-width="2.3"/>
<text transform="translate(86.9 1034.3) scale(0.97 1)" text-anchor="end" font-size="28.85">250</text>
<line x1="92.8" x2="101.4" y1="974.80" y2="974.80" stroke="#000" stroke-width="2.3"/>
<text transform="translate(86.9 984.3) scale(0.97 1)" text-anchor="end" font-size="28.85">300</text>
<line x1="101.40" x2="101.40" y1="1274.55" y2="1283.1" stroke="#000" stroke-width="2.3"/>
<text transform="translate(101.7 1316.3)" text-anchor="middle" font-size="28.85">0%</text>
<line x1="212.58" x2="212.58" y1="1274.55" y2="1283.1" stroke="#000" stroke-width="2.3"/>
<text transform="translate(212.9 1316.3)" text-anchor="middle" font-size="28.85">2%</text>
<line x1="323.76" x2="323.76" y1="1274.55" y2="1283.1" stroke="#000" stroke-width="2.3"/>
<text transform="translate(324.1 1316.3)" text-anchor="middle" font-size="28.85">4%</text>
<line x1="434.94" x2="434.94" y1="1274.55" y2="1283.1" stroke="#000" stroke-width="2.3"/>
<text transform="translate(435.2 1316.3)" text-anchor="middle" font-size="28.85">6%</text>
<line x1="546.12" x2="546.12" y1="1274.55" y2="1283.1" stroke="#000" stroke-width="2.3"/>
<text transform="translate(546.4 1316.3)" text-anchor="middle" font-size="28.85">8%</text>
<line x1="657.30" x2="657.30" y1="1274.55" y2="1283.1" stroke="#000" stroke-width="2.3"/>
<text transform="translate(657.6 1316.3)" text-anchor="middle" font-size="28.85">10%</text>
<rect x="101.4" y="974.8" width="555.90" height="299.75" fill="none" stroke="#000" stroke-width="2.3"/>
<text transform="translate(161.8 963.4)" textLength="378.4" lengthAdjust="spacingAndGlyphs" font-size="28.85">c) Soil with 7% and 10% cement</text>
<text transform="translate(317.8 1349.4)" textLength="119.0" lengthAdjust="spacingAndGlyphs" font-size="28.85">Strain (%)</text>
<text transform="translate(24.0 1237.6) rotate(-90)" textLength="237.0" lengthAdjust="spacingAndGlyphs" font-size="28.85">Shear pressure (kPa)</text>
<g transform="translate(0 0.4)">
<polyline points="101.4,1274.5 115.7,1260.6 127.4,1252.4 137.9,1243.0 149.6,1234.9 157.7,1230.2 170.6,1222.5 188.1,1218.7 202.1,1217.5 216.0,1218.0 245.0,1220.2 270.0,1221.6 340.0,1222.6 590.0,1224.1 654.0,1224.4" fill="none" stroke="#000" stroke-width="2.0" stroke-linejoin="round"/>
<rect x="94.7" y="1272.8" width="13.4" height="3.5" fill="#000"/>
<rect x="109.0" y="1258.8" width="13.4" height="3.5" fill="#000"/>
<rect x="120.7" y="1250.7" width="13.4" height="3.5" fill="#000"/>
<rect x="131.2" y="1241.2" width="13.4" height="3.5" fill="#000"/>
<rect x="142.9" y="1233.2" width="13.4" height="3.5" fill="#000"/>
<rect x="151.0" y="1228.5" width="13.4" height="3.5" fill="#000"/>
<rect x="163.9" y="1220.8" width="13.4" height="3.5" fill="#000"/>
<rect x="181.4" y="1217.0" width="13.4" height="3.5" fill="#000"/>
<rect x="195.4" y="1215.8" width="13.4" height="3.5" fill="#000"/>
<rect x="209.8" y="1216.3" width="13.4" height="3.5" fill="#000"/>
<rect x="224.3" y="1217.4" width="13.4" height="3.5" fill="#000"/>
<rect x="238.8" y="1218.5" width="13.4" height="3.5" fill="#000"/>
<rect x="253.3" y="1219.3" width="13.4" height="3.5" fill="#000"/>
<rect x="267.8" y="1219.9" width="13.4" height="3.5" fill="#000"/>
<rect x="282.3" y="1220.1" width="13.4" height="3.5" fill="#000"/>
<rect x="296.8" y="1220.3" width="13.4" height="3.5" fill="#000"/>
<rect x="311.3" y="1220.5" width="13.4" height="3.5" fill="#000"/>
<rect x="325.8" y="1220.7" width="13.4" height="3.5" fill="#000"/>
<rect x="340.3" y="1220.9" width="13.4" height="3.5" fill="#000"/>
<rect x="354.8" y="1221.0" width="13.4" height="3.5" fill="#000"/>
<rect x="369.3" y="1221.1" width="13.4" height="3.5" fill="#000"/>
<rect x="383.8" y="1221.2" width="13.4" height="3.5" fill="#000"/>
<rect x="398.3" y="1221.2" width="13.4" height="3.5" fill="#000"/>
<rect x="412.8" y="1221.3" width="13.4" height="3.5" fill="#000"/>
<rect x="427.3" y="1221.4" width="13.4" height="3.5" fill="#000"/>
<rect x="441.8" y="1221.5" width="13.4" height="3.5" fill="#000"/>
<rect x="456.3" y="1221.6" width="13.4" height="3.5" fill="#000"/>
<rect x="470.8" y="1221.7" width="13.4" height="3.5" fill="#000"/>
<rect x="485.3" y="1221.8" width="13.4" height="3.5" fill="#000"/>
<rect x="499.8" y="1221.8" width="13.4" height="3.5" fill="#000"/>
<rect x="514.3" y="1221.9" width="13.4" height="3.5" fill="#000"/>
<rect x="528.8" y="1222.0" width="13.4" height="3.5" fill="#000"/>
<rect x="543.3" y="1222.1" width="13.4" height="3.5" fill="#000"/>
<rect x="557.8" y="1222.2" width="13.4" height="3.5" fill="#000"/>
<rect x="572.3" y="1222.3" width="13.4" height="3.5" fill="#000"/>
<rect x="586.8" y="1222.4" width="13.4" height="3.5" fill="#000"/>
<rect x="601.3" y="1222.4" width="13.4" height="3.5" fill="#000"/>
<rect x="615.8" y="1222.5" width="13.4" height="3.5" fill="#000"/>
<rect x="630.3" y="1222.6" width="13.4" height="3.5" fill="#000"/>
<rect x="644.8" y="1222.6" width="13.4" height="3.5" fill="#000"/>
<polyline points="101.4,1274.5 110.0,1258.0 120.0,1243.0 130.0,1230.0 140.0,1219.5 150.0,1212.0 158.9,1208.0 170.6,1211.5 188.1,1215.0 201.0,1216.2 216.1,1216.9 230.2,1216.8 244.2,1216.8 270.0,1217.0 340.0,1218.8 450.0,1219.1 590.0,1219.2 654.0,1219.4" fill="none" stroke="#000" stroke-width="2.0" stroke-linejoin="round"/>
<path d="M101.4 1269.3V1279.8M96.2 1274.5H106.7" stroke="#000" stroke-width="2.6" fill="none"/>
<path d="M115.0 1245.2V1255.8M109.8 1250.5H120.2" stroke="#000" stroke-width="2.6" fill="none"/>
<path d="M129.0 1226.0V1236.5M123.8 1231.3H134.2" stroke="#000" stroke-width="2.6" fill="none"/>
<path d="M144.0 1211.2V1221.8M138.8 1216.5H149.2" stroke="#000" stroke-width="2.6" fill="none"/>
<path d="M158.9 1202.8V1213.2M153.7 1208.0H164.2" stroke="#000" stroke-width="2.6" fill="none"/>
<path d="M170.6 1206.2V1216.8M165.3 1211.5H175.8" stroke="#000" stroke-width="2.6" fill="none"/>
<path d="M188.1 1209.8V1220.2M182.8 1215.0H193.3" stroke="#000" stroke-width="2.6" fill="none"/>
<path d="M201.0 1211.0V1221.5M195.8 1216.2H206.2" stroke="#000" stroke-width="2.6" fill="none"/>
<path d="M216.1 1211.7V1222.2M210.8 1216.9H221.3" stroke="#000" stroke-width="2.6" fill="none"/>
<path d="M230.2 1211.5V1222.0M224.9 1216.8H235.4" stroke="#000" stroke-width="2.6" fill="none"/>
<path d="M244.2 1211.5V1222.0M238.9 1216.8H249.4" stroke="#000" stroke-width="2.6" fill="none"/>
<path d="M259.6 1211.7V1222.2M254.4 1216.9H264.9" stroke="#000" stroke-width="2.6" fill="none"/>
<path d="M274.2 1211.9V1222.4M268.9 1217.1H279.4" stroke="#000" stroke-width="2.6" fill="none"/>
<path d="M288.0 1212.2V1222.7M282.8 1217.5H293.2" stroke="#000" stroke-width="2.6" fill="none"/>
<path d="M302.6 1212.6V1223.1M297.4 1217.8H307.9" stroke="#000" stroke-width="2.6" fill="none"/>
<path d="M317.2 1213.0V1223.5M311.9 1218.2H322.4" stroke="#000" stroke-width="2.6" fill="none"/>
<path d="M331.2 1213.3V1223.8M325.9 1218.6H336.4" stroke="#000" stroke-width="2.6" fill="none"/>
<path d="M345.8 1213.6V1224.1M340.6 1218.8H351.1" stroke="#000" stroke-width="2.6" fill="none"/>
<path d="M360.4 1213.6V1224.1M355.1 1218.9H365.6" stroke="#000" stroke-width="2.6" fill="none"/>
<path d="M375.0 1213.6V1224.1M369.8 1218.9H380.2" stroke="#000" stroke-width="2.6" fill="none"/>
<path d="M389.3 1213.7V1224.2M384.1 1218.9H394.6" stroke="#000" stroke-width="2.6" fill="none"/>
<path d="M403.9 1213.7V1224.2M398.6 1219.0H409.1" stroke="#000" stroke-width="2.6" fill="none"/>
<path d="M418.5 1213.8V1224.3M413.2 1219.0H423.8" stroke="#000" stroke-width="2.6" fill="none"/>
<path d="M432.5 1213.8V1224.3M427.2 1219.1H437.8" stroke="#000" stroke-width="2.6" fill="none"/>
<path d="M446.2 1213.8V1224.3M440.9 1219.1H451.4" stroke="#000" stroke-width="2.6" fill="none"/>
<path d="M461.0 1213.9V1224.4M455.8 1219.1H466.2" stroke="#000" stroke-width="2.6" fill="none"/>
<path d="M475.8 1213.9V1224.4M470.6 1219.1H481.1" stroke="#000" stroke-width="2.6" fill="none"/>
<path d="M490.4 1213.9V1224.4M485.1 1219.1H495.6" stroke="#000" stroke-width="2.6" fill="none"/>
<path d="M504.5 1213.9V1224.4M499.2 1219.1H509.8" stroke="#000" stroke-width="2.6" fill="none"/>
<path d="M519.1 1213.9V1224.4M513.9 1219.1H524.4" stroke="#000" stroke-width="2.6" fill="none"/>
<path d="M533.6 1213.9V1224.4M528.4 1219.2H538.9" stroke="#000" stroke-width="2.6" fill="none"/>
<path d="M548.0 1213.9V1224.4M542.8 1219.2H553.2" stroke="#000" stroke-width="2.6" fill="none"/>
<path d="M562.8 1213.9V1224.4M557.5 1219.2H568.0" stroke="#000" stroke-width="2.6" fill="none"/>
<path d="M577.2 1213.9V1224.4M572.0 1219.2H582.5" stroke="#000" stroke-width="2.6" fill="none"/>
<path d="M591.8 1214.0V1224.5M586.5 1219.2H597.0" stroke="#000" stroke-width="2.6" fill="none"/>
<path d="M605.8 1214.0V1224.5M600.5 1219.2H611.0" stroke="#000" stroke-width="2.6" fill="none"/>
<path d="M620.4 1214.0V1224.5M615.1 1219.3H625.6" stroke="#000" stroke-width="2.6" fill="none"/>
<path d="M635.0 1214.1V1224.6M629.8 1219.3H640.2" stroke="#000" stroke-width="2.6" fill="none"/>
<path d="M648.1 1214.1V1224.6M642.9 1219.4H653.4" stroke="#000" stroke-width="2.6" fill="none"/>
<polyline points="101.4,1274.5 107.0,1267.0 112.4,1260.0 118.0,1252.5 123.4,1245.5 129.0,1238.0 134.4,1231.0 140.0,1221.5 145.0,1213.0 151.1,1204.5 162.7,1194.6 173.3,1186.4 184.9,1174.7 201.3,1163.5 212.5,1161.2 229.3,1168.9 240.3,1171.9 257.3,1173.4 268.1,1174.9 284.5,1175.5 301.1,1176.9 312.2,1177.8 329.4,1179.3 345.8,1180.4 357.2,1180.7 374.1,1181.3 384.9,1181.3 401.2,1181.9 418.5,1182.2 429.0,1182.8 445.6,1182.8 460.0,1182.8 474.4,1182.8 489.9,1182.9 504.5,1183.0 519.1,1183.2 533.4,1183.3 548.0,1183.4 562.8,1183.5 577.2,1183.6 591.8,1183.7 606.4,1183.8 621.2,1184.0 635.8,1184.1 651.0,1184.2" fill="none" stroke="#000" stroke-width="2.0" stroke-linejoin="round"/>
<circle cx="101.4" cy="1274.5" r="6.00" fill="#000"/>
<circle cx="107.0" cy="1267.0" r="6.00" fill="#000"/>
<circle cx="112.4" cy="1260.0" r="6.00" fill="#000"/>
<circle cx="118.0" cy="1252.5" r="6.00" fill="#000"/>
<circle cx="123.4" cy="1245.5" r="6.00" fill="#000"/>
<circle cx="129.0" cy="1238.0" r="6.00" fill="#000"/>
<circle cx="134.4" cy="1231.0" r="6.00" fill="#000"/>
<circle cx="140.0" cy="1221.5" r="6.00" fill="#000"/>
<circle cx="145.0" cy="1213.0" r="6.00" fill="#000"/>
<circle cx="151.1" cy="1204.5" r="6.00" fill="#000"/>
<circle cx="162.7" cy="1194.6" r="6.00" fill="#000"/>
<circle cx="173.3" cy="1186.4" r="6.00" fill="#000"/>
<circle cx="184.9" cy="1174.7" r="6.00" fill="#000"/>
<circle cx="201.3" cy="1163.5" r="6.00" fill="#000"/>
<circle cx="212.5" cy="1161.2" r="6.00" fill="#000"/>
<circle cx="229.3" cy="1168.9" r="6.00" fill="#000"/>
<circle cx="240.3" cy="1171.9" r="6.00" fill="#000"/>
<circle cx="257.3" cy="1173.4" r="6.00" fill="#000"/>
<circle cx="268.1" cy="1174.9" r="6.00" fill="#000"/>
<circle cx="284.5" cy="1175.5" r="6.00" fill="#000"/>
<circle cx="301.1" cy="1176.9" r="6.00" fill="#000"/>
<circle cx="312.2" cy="1177.8" r="6.00" fill="#000"/>
<circle cx="329.4" cy="1179.3" r="6.00" fill="#000"/>
<circle cx="345.8" cy="1180.4" r="6.00" fill="#000"/>
<circle cx="357.2" cy="1180.7" r="6.00" fill="#000"/>
<circle cx="374.1" cy="1181.3" r="6.00" fill="#000"/>
<circle cx="384.9" cy="1181.3" r="6.00" fill="#000"/>
<circle cx="401.2" cy="1181.9" r="6.00" fill="#000"/>
<circle cx="418.5" cy="1182.2" r="6.00" fill="#000"/>
<circle cx="429.0" cy="1182.8" r="6.00" fill="#000"/>
<circle cx="445.6" cy="1182.8" r="6.00" fill="#000"/>
<circle cx="460.0" cy="1182.8" r="6.00" fill="#000"/>
<circle cx="474.4" cy="1182.8" r="6.00" fill="#000"/>
<circle cx="489.9" cy="1182.9" r="6.00" fill="#000"/>
<circle cx="504.5" cy="1183.0" r="6.00" fill="#000"/>
<circle cx="519.1" cy="1183.2" r="6.00" fill="#000"/>
<circle cx="533.4" cy="1183.3" r="6.00" fill="#000"/>
<circle cx="548.0" cy="1183.4" r="6.00" fill="#000"/>
<circle cx="562.8" cy="1183.5" r="6.00" fill="#000"/>
<circle cx="577.2" cy="1183.6" r="6.00" fill="#000"/>
<circle cx="591.8" cy="1183.7" r="6.00" fill="#000"/>
<circle cx="606.4" cy="1183.8" r="6.00" fill="#000"/>
<circle cx="621.2" cy="1184.0" r="6.00" fill="#000"/>
<circle cx="635.8" cy="1184.1" r="6.00" fill="#000"/>
<circle cx="651.0" cy="1184.2" r="6.00" fill="#000"/>
<polyline points="101.4,1274.0 112.4,1254.9 123.4,1235.9 134.4,1216.4 142.7,1201.9 151.1,1187.0 162.7,1164.8 173.3,1149.6 184.9,1139.6 195.4,1132.8 207.1,1129.3 216.5,1134.0 228.6,1139.1 245.7,1144.9 257.3,1148.6 268.1,1151.5 279.2,1155.9 290.3,1157.4 301.7,1158.8 318.6,1161.2 329.4,1162.3 346.4,1163.2 357.2,1164.1 374.1,1165.2 384.9,1165.2 396.0,1165.2 412.6,1165.5 423.7,1165.5 440.4,1165.5 451.0,1166.1 462.5,1166.4 479.6,1167.0 490.4,1167.2 501.5,1167.3 518.2,1167.6 529.3,1167.7 541.5,1167.9 554.7,1168.1 567.8,1168.3 580.4,1168.5 593.2,1168.7 605.8,1168.8 618.9,1169.0 631.5,1169.2 644.3,1169.4 657.4,1169.6" fill="none" stroke="#000" stroke-width="2.0" stroke-linejoin="round"/>
<circle cx="101.4" cy="1274.0" r="4.95" fill="none" stroke="#000" stroke-width="2.9"/>
<circle cx="112.4" cy="1254.9" r="4.95" fill="none" stroke="#000" stroke-width="2.9"/>
<circle cx="123.4" cy="1235.9" r="4.95" fill="none" stroke="#000" stroke-width="2.9"/>
<circle cx="134.4" cy="1216.4" r="4.95" fill="none" stroke="#000" stroke-width="2.9"/>
<circle cx="142.7" cy="1201.9" r="4.95" fill="none" stroke="#000" stroke-width="2.9"/>
<circle cx="151.1" cy="1187.0" r="4.95" fill="none" stroke="#000" stroke-width="2.9"/>
<circle cx="162.7" cy="1164.8" r="4.95" fill="none" stroke="#000" stroke-width="2.9"/>
<circle cx="173.3" cy="1149.6" r="4.95" fill="none" stroke="#000" stroke-width="2.9"/>
<circle cx="184.9" cy="1139.6" r="4.95" fill="none" stroke="#000" stroke-width="2.9"/>
<circle cx="195.4" cy="1132.8" r="4.95" fill="none" stroke="#000" stroke-width="2.9"/>
<circle cx="207.1" cy="1129.3" r="4.95" fill="none" stroke="#000" stroke-width="2.9"/>
<circle cx="216.5" cy="1134.0" r="4.95" fill="none" stroke="#000" stroke-width="2.9"/>
<circle cx="228.6" cy="1139.1" r="4.95" fill="none" stroke="#000" stroke-width="2.9"/>
<circle cx="245.7" cy="1144.9" r="4.95" fill="none" stroke="#000" stroke-width="2.9"/>
<circle cx="257.3" cy="1148.6" r="4.95" fill="none" stroke="#000" stroke-width="2.9"/>
<circle cx="268.1" cy="1151.5" r="4.95" fill="none" stroke="#000" stroke-width="2.9"/>
<circle cx="279.2" cy="1155.9" r="4.95" fill="none" stroke="#000" stroke-width="2.9"/>
<circle cx="290.3" cy="1157.4" r="4.95" fill="none" stroke="#000" stroke-width="2.9"/>
<circle cx="301.7" cy="1158.8" r="4.95" fill="none" stroke="#000" stroke-width="2.9"/>
<circle cx="318.6" cy="1161.2" r="4.95" fill="none" stroke="#000" stroke-width="2.9"/>
<circle cx="329.4" cy="1162.3" r="4.95" fill="none" stroke="#000" stroke-width="2.9"/>
<circle cx="346.4" cy="1163.2" r="4.95" fill="none" stroke="#000" stroke-width="2.9"/>
<circle cx="357.2" cy="1164.1" r="4.95" fill="none" stroke="#000" stroke-width="2.9"/>
<circle cx="374.1" cy="1165.2" r="4.95" fill="none" stroke="#000" stroke-width="2.9"/>
<circle cx="384.9" cy="1165.2" r="4.95" fill="none" stroke="#000" stroke-width="2.9"/>
<circle cx="396.0" cy="1165.2" r="4.95" fill="none" stroke="#000" stroke-width="2.9"/>
<circle cx="412.6" cy="1165.5" r="4.95" fill="none" stroke="#000" stroke-width="2.9"/>
<circle cx="423.7" cy="1165.5" r="4.95" fill="none" stroke="#000" stroke-width="2.9"/>
<circle cx="440.4" cy="1165.5" r="4.95" fill="none" stroke="#000" stroke-width="2.9"/>
<circle cx="451.0" cy="1166.1" r="4.95" fill="none" stroke="#000" stroke-width="2.9"/>
<circle cx="462.5" cy="1166.4" r="4.95" fill="none" stroke="#000" stroke-width="2.9"/>
<circle cx="479.6" cy="1167.0" r="4.95" fill="none" stroke="#000" stroke-width="2.9"/>
<circle cx="490.4" cy="1167.2" r="4.95" fill="none" stroke="#000" stroke-width="2.9"/>
<circle cx="501.5" cy="1167.3" r="4.95" fill="none" stroke="#000" stroke-width="2.9"/>
<circle cx="518.2" cy="1167.6" r="4.95" fill="none" stroke="#000" stroke-width="2.9"/>
<circle cx="529.3" cy="1167.7" r="4.95" fill="none" stroke="#000" stroke-width="2.9"/>
<circle cx="541.5" cy="1167.9" r="4.95" fill="none" stroke="#000" stroke-width="2.9"/>
<circle cx="554.7" cy="1168.1" r="4.95" fill="none" stroke="#000" stroke-width="2.9"/>
<circle cx="567.8" cy="1168.3" r="4.95" fill="none" stroke="#000" stroke-width="2.9"/>
<circle cx="580.4" cy="1168.5" r="4.95" fill="none" stroke="#000" stroke-width="2.9"/>
<circle cx="593.2" cy="1168.7" r="4.95" fill="none" stroke="#000" stroke-width="2.9"/>
<circle cx="605.8" cy="1168.8" r="4.95" fill="none" stroke="#000" stroke-width="2.9"/>
<circle cx="618.9" cy="1169.0" r="4.95" fill="none" stroke="#000" stroke-width="2.9"/>
<circle cx="631.5" cy="1169.2" r="4.95" fill="none" stroke="#000" stroke-width="2.9"/>
<circle cx="644.3" cy="1169.4" r="4.95" fill="none" stroke="#000" stroke-width="2.9"/>
<circle cx="657.4" cy="1169.6" r="4.95" fill="none" stroke="#000" stroke-width="2.9"/>
<polyline points="101.4,1274.5 103.5,1268.0 106.3,1261.0 110.5,1252.0 118.0,1241.0 128.0,1226.0 139.4,1209.8 151.1,1196.9 162.7,1182.2 173.3,1168.9 184.9,1153.3 201.3,1132.7 212.3,1117.3 228.7,1093.6 240.1,1076.1 257.0,1059.5 268.7,1054.2 284.6,1064.6 301.3,1072.8 312.7,1075.7 329.1,1077.7 345.7,1078.6 356.8,1079.2 373.4,1080.1 384.2,1080.9 401.2,1082.1 417.2,1083.0 428.9,1083.6 445.5,1084.5 462.5,1085.3 473.6,1085.9 488.0,1086.1 502.5,1086.3 517.0,1086.4 531.5,1086.6 546.0,1086.8 560.5,1087.0 575.0,1087.2 589.5,1087.4 604.0,1087.5 618.5,1087.7 633.0,1087.9 647.5,1088.1 651.5,1088.1" fill="none" stroke="#000" stroke-width="2.0" stroke-linejoin="round"/>
<rect x="95.4" y="1268.5" width="12" height="12" fill="#000"/>
<rect x="97.5" y="1262.0" width="12" height="12" fill="#000"/>
<rect x="100.3" y="1255.0" width="12" height="12" fill="#000"/>
<rect x="104.5" y="1246.0" width="12" height="12" fill="#000"/>
<rect x="112.0" y="1235.0" width="12" height="12" fill="#000"/>
<rect x="122.0" y="1220.0" width="12" height="12" fill="#000"/>
<rect x="133.4" y="1203.8" width="12" height="12" fill="#000"/>
<rect x="145.1" y="1190.9" width="12" height="12" fill="#000"/>
<rect x="156.7" y="1176.2" width="12" height="12" fill="#000"/>
<rect x="167.3" y="1162.9" width="12" height="12" fill="#000"/>
<rect x="178.9" y="1147.3" width="12" height="12" fill="#000"/>
<rect x="195.3" y="1126.7" width="12" height="12" fill="#000"/>
<rect x="206.3" y="1111.3" width="12" height="12" fill="#000"/>
<rect x="222.7" y="1087.6" width="12" height="12" fill="#000"/>
<rect x="234.1" y="1070.1" width="12" height="12" fill="#000"/>
<rect x="251.0" y="1053.5" width="12" height="12" fill="#000"/>
<rect x="262.7" y="1048.2" width="12" height="12" fill="#000"/>
<rect x="278.6" y="1058.6" width="12" height="12" fill="#000"/>
<rect x="295.3" y="1066.8" width="12" height="12" fill="#000"/>
<rect x="306.7" y="1069.7" width="12" height="12" fill="#000"/>
<rect x="323.1" y="1071.7" width="12" height="12" fill="#000"/>
<rect x="339.7" y="1072.6" width="12" height="12" fill="#000"/>
<rect x="350.8" y="1073.2" width="12" height="12" fill="#000"/>
<rect x="367.4" y="1074.1" width="12" height="12" fill="#000"/>
<rect x="378.2" y="1074.9" width="12" height="12" fill="#000"/>
<rect x="395.2" y="1076.1" width="12" height="12" fill="#000"/>
<rect x="411.2" y="1077.0" width="12" height="12" fill="#000"/>
<rect x="422.9" y="1077.6" width="12" height="12" fill="#000"/>
<rect x="439.5" y="1078.5" width="12" height="12" fill="#000"/>
<rect x="456.5" y="1079.3" width="12" height="12" fill="#000"/>
<rect x="467.6" y="1079.9" width="12" height="12" fill="#000"/>
<rect x="482.0" y="1080.1" width="12" height="12" fill="#000"/>
<rect x="496.5" y="1080.3" width="12" height="12" fill="#000"/>
<rect x="511.0" y="1080.4" width="12" height="12" fill="#000"/>
<rect x="525.5" y="1080.6" width="12" height="12" fill="#000"/>
<rect x="540.0" y="1080.8" width="12" height="12" fill="#000"/>
<rect x="554.5" y="1081.0" width="12" height="12" fill="#000"/>
<rect x="569.0" y="1081.2" width="12" height="12" fill="#000"/>
<rect x="583.5" y="1081.4" width="12" height="12" fill="#000"/>
<rect x="598.0" y="1081.5" width="12" height="12" fill="#000"/>
<rect x="612.5" y="1081.7" width="12" height="12" fill="#000"/>
<rect x="627.0" y="1081.9" width="12" height="12" fill="#000"/>
<rect x="641.5" y="1082.1" width="12" height="12" fill="#000"/>
<rect x="645.5" y="1082.1" width="12" height="12" fill="#000"/>
<polyline points="101.4,1274.5 109.9,1252.4 119.2,1233.7 129.3,1209.0 139.9,1187.4 151.1,1167.7 167.9,1135.5 179.4,1110.0 195.7,1079.0 210.3,1050.7 224.3,1026.5 244.5,1004.9 253.5,1016.5 267.8,1028.2 282.4,1037.6 296.9,1044.5 310.7,1050.9 325.3,1056.7 339.9,1060.2 354.5,1062.0 368.5,1062.3 383.6,1064.0 397.7,1066.1 412.0,1067.5 426.0,1069.3 440.6,1069.9 455.2,1071.3 469.6,1072.5 484.0,1073.6 499.2,1074.2 513.2,1074.8 527.5,1075.7 542.4,1076.0 556.7,1076.3 570.7,1076.6 585.3,1076.9 599.9,1077.2 614.5,1077.4 629.1,1077.7 644.3,1078.0 658.3,1078.6" fill="none" stroke="#000" stroke-width="2.0" stroke-linejoin="round"/>
<rect x="95.9" y="1269.0" width="11.0" height="11.0" fill="none" stroke="#000" stroke-width="2.5"/>
<rect x="104.4" y="1246.9" width="11.0" height="11.0" fill="none" stroke="#000" stroke-width="2.5"/>
<rect x="113.7" y="1228.2" width="11.0" height="11.0" fill="none" stroke="#000" stroke-width="2.5"/>
<rect x="123.8" y="1203.5" width="11.0" height="11.0" fill="none" stroke="#000" stroke-width="2.5"/>
<rect x="134.4" y="1181.9" width="11.0" height="11.0" fill="none" stroke="#000" stroke-width="2.5"/>
<rect x="145.6" y="1162.2" width="11.0" height="11.0" fill="none" stroke="#000" stroke-width="2.5"/>
<rect x="162.4" y="1130.0" width="11.0" height="11.0" fill="none" stroke="#000" stroke-width="2.5"/>
<rect x="173.9" y="1104.5" width="11.0" height="11.0" fill="none" stroke="#000" stroke-width="2.5"/>
<rect x="190.2" y="1073.5" width="11.0" height="11.0" fill="none" stroke="#000" stroke-width="2.5"/>
<rect x="204.8" y="1045.2" width="11.0" height="11.0" fill="none" stroke="#000" stroke-width="2.5"/>
<rect x="218.8" y="1021.0" width="11.0" height="11.0" fill="none" stroke="#000" stroke-width="2.5"/>
<rect x="239.0" y="999.4" width="11.0" height="11.0" fill="none" stroke="#000" stroke-width="2.5"/>
<rect x="248.0" y="1011.0" width="11.0" height="11.0" fill="none" stroke="#000" stroke-width="2.5"/>
<rect x="262.3" y="1022.7" width="11.0" height="11.0" fill="none" stroke="#000" stroke-width="2.5"/>
<rect x="276.9" y="1032.1" width="11.0" height="11.0" fill="none" stroke="#000" stroke-width="2.5"/>
<rect x="291.4" y="1039.0" width="11.0" height="11.0" fill="none" stroke="#000" stroke-width="2.5"/>
<rect x="305.2" y="1045.4" width="11.0" height="11.0" fill="none" stroke="#000" stroke-width="2.5"/>
<rect x="319.8" y="1051.2" width="11.0" height="11.0" fill="none" stroke="#000" stroke-width="2.5"/>
<rect x="334.4" y="1054.7" width="11.0" height="11.0" fill="none" stroke="#000" stroke-width="2.5"/>
<rect x="349.0" y="1056.5" width="11.0" height="11.0" fill="none" stroke="#000" stroke-width="2.5"/>
<rect x="363.0" y="1056.8" width="11.0" height="11.0" fill="none" stroke="#000" stroke-width="2.5"/>
<rect x="378.1" y="1058.5" width="11.0" height="11.0" fill="none" stroke="#000" stroke-width="2.5"/>
<rect x="392.2" y="1060.6" width="11.0" height="11.0" fill="none" stroke="#000" stroke-width="2.5"/>
<rect x="406.5" y="1062.0" width="11.0" height="11.0" fill="none" stroke="#000" stroke-width="2.5"/>
<rect x="420.5" y="1063.8" width="11.0" height="11.0" fill="none" stroke="#000" stroke-width="2.5"/>
<rect x="435.1" y="1064.4" width="11.0" height="11.0" fill="none" stroke="#000" stroke-width="2.5"/>
<rect x="449.7" y="1065.8" width="11.0" height="11.0" fill="none" stroke="#000" stroke-width="2.5"/>
<rect x="464.1" y="1067.0" width="11.0" height="11.0" fill="none" stroke="#000" stroke-width="2.5"/>
<rect x="478.5" y="1068.1" width="11.0" height="11.0" fill="none" stroke="#000" stroke-width="2.5"/>
<rect x="493.7" y="1068.7" width="11.0" height="11.0" fill="none" stroke="#000" stroke-width="2.5"/>
<rect x="507.7" y="1069.3" width="11.0" height="11.0" fill="none" stroke="#000" stroke-width="2.5"/>
<rect x="522.0" y="1070.2" width="11.0" height="11.0" fill="none" stroke="#000" stroke-width="2.5"/>
<rect x="536.9" y="1070.5" width="11.0" height="11.0" fill="none" stroke="#000" stroke-width="2.5"/>
<rect x="551.2" y="1070.8" width="11.0" height="11.0" fill="none" stroke="#000" stroke-width="2.5"/>
<rect x="565.2" y="1071.1" width="11.0" height="11.0" fill="none" stroke="#000" stroke-width="2.5"/>
<rect x="579.8" y="1071.4" width="11.0" height="11.0" fill="none" stroke="#000" stroke-width="2.5"/>
<rect x="594.4" y="1071.7" width="11.0" height="11.0" fill="none" stroke="#000" stroke-width="2.5"/>
<rect x="609.0" y="1071.9" width="11.0" height="11.0" fill="none" stroke="#000" stroke-width="2.5"/>
<rect x="623.6" y="1072.2" width="11.0" height="11.0" fill="none" stroke="#000" stroke-width="2.5"/>
<rect x="638.8" y="1072.5" width="11.0" height="11.0" fill="none" stroke="#000" stroke-width="2.5"/>
<rect x="652.8" y="1073.1" width="11.0" height="11.0" fill="none" stroke="#000" stroke-width="2.5"/>
</g>
<line x1="8.4" x2="62.1" y1="1377.6" y2="1377.6" stroke="#000" stroke-width="2.1"/>
<rect x="28.6" y="1375.8" width="13.4" height="3.5" fill="#000"/>
<text transform="translate(67.7 1386.2) scale(0.988 1)" font-size="28.85">50 kPa-7%</text>
<line x1="8.4" x2="62.1" y1="1414.0" y2="1414.0" stroke="#000" stroke-width="2.1"/>
<path d="M35.3 1408.2V1419.8M29.4 1414.0H41.1" stroke="#000" stroke-width="2.6" fill="none"/>
<text transform="translate(67.7 1422.6) scale(0.988 1)" font-size="28.85">50 kPa-10%</text>
<line x1="238.5" x2="292.2" y1="1377.6" y2="1377.6" stroke="#000" stroke-width="2.1"/>
<circle cx="266.0" cy="1377.6" r="6.40" fill="#000"/>
<text transform="translate(299.0 1386.2) scale(0.988 1)" font-size="28.85">100 kPa-7%</text>
<line x1="238.5" x2="292.2" y1="1414.0" y2="1414.0" stroke="#000" stroke-width="2.1"/>
<circle cx="266.0" cy="1414.0" r="5.00" fill="none" stroke="#000" stroke-width="2.8"/>
<text transform="translate(299.0 1422.6) scale(0.988 1)" font-size="28.85">100 kPa-10%</text>
<line x1="469.1" x2="523.8" y1="1377.6" y2="1377.6" stroke="#000" stroke-width="2.1"/>
<rect x="490.7" y="1371.3" width="12.6" height="12.6" fill="#000"/>
<text transform="translate(529.2 1386.2) scale(0.988 1)" font-size="28.85">200 kPa-7%</text>
<line x1="469.1" x2="523.8" y1="1414.0" y2="1414.0" stroke="#000" stroke-width="2.1"/>
<rect x="491.9" y="1408.9" width="10.2" height="10.2" fill="none" stroke="#000" stroke-width="2.4"/>
<text transform="translate(529.2 1422.6) scale(0.988 1)" font-size="28.85">200 kPa-10%</text>
</g>
</svg></body></html>
